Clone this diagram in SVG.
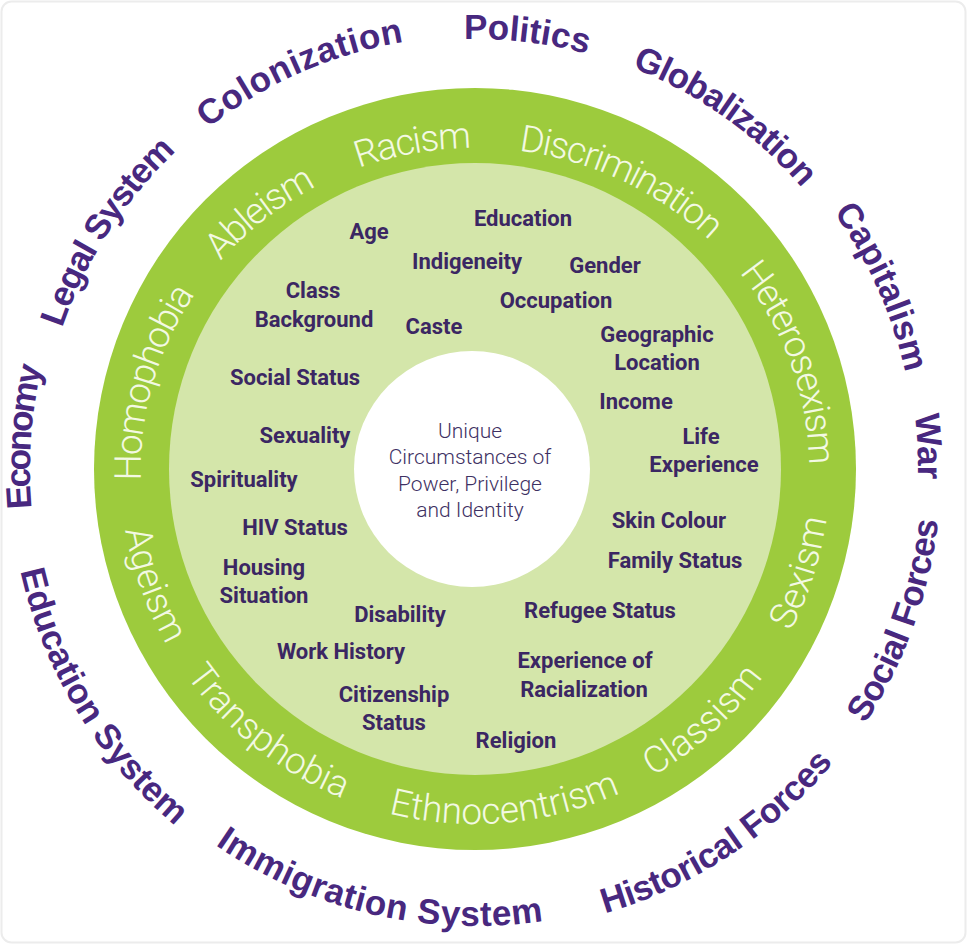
<svg xmlns="http://www.w3.org/2000/svg" xmlns:xlink="http://www.w3.org/1999/xlink" width="969" height="947" viewBox="0 0 969 947">
<style>
.outer{font-family:"Liberation Sans",Arial,sans-serif;font-weight:700;font-size:35px;fill:#48287f}
.ring{font-family:Roboto,"Liberation Sans",sans-serif;font-weight:300;font-size:37px;fill:#f3f9e3}
.cw{letter-spacing:-1.5px}
.lbl{font-family:Roboto,"Liberation Sans",sans-serif;font-weight:700;font-size:22px;fill:#3b2763;text-anchor:middle}
.ctr{font-family:Roboto,"Liberation Sans",sans-serif;font-weight:300;font-size:21px;fill:#3e3163;text-anchor:middle}
</style>
<defs>
<path id="ringCW" d="M475,790 A334,321 0 1 1 475,148 A334,321 0 1 1 475,790"/>
<path id="ringCCW" d="M475,114 A355,355 0 1 0 475,824 A355,355 0 1 0 475,114"/>
<path id="pEco" d="M475,914 A445,445 0 1 1 475,24 A445,445 0 1 1 475,914"/>
<path id="pLeg" d="M475,905 A436,436 0 1 1 475,33 A436,436 0 1 1 475,905"/>
<path id="pCol" d="M475,902 A433,433 0 1 1 475,36 A433,433 0 1 1 475,902"/>
<path id="pPol" d="M475,899 A430,430 0 1 1 475,39 A430,430 0 1 1 475,899"/>
<path id="pGlo" d="M475,900 A431,431 0 1 1 475,38 A431,431 0 1 1 475,900"/>
<path id="pCap" d="M475,910 A441,441 0 1 1 475,28 A441,441 0 1 1 475,910"/>
<path id="pWar" d="M475,912 A443,443 0 1 1 475,26 A443,443 0 1 1 475,912"/>
<path id="pSoc" d="M475,3 A466,466 0 1 0 475,935 A466,466 0 1 0 475,3"/>
<path id="pHis" d="M475,6 A463,463 0 1 0 475,932 A463,463 0 1 0 475,6"/>
<path id="pImm" d="M475,12 A457,457 0 1 0 475,926 A457,457 0 1 0 475,12"/>
<path id="pEdu" d="M475,3 A466,466 0 1 0 475,935 A466,466 0 1 0 475,3"/>
</defs>
<rect width="969" height="947" fill="#ffffff"/>
<rect x="1.5" y="1.5" width="964" height="941" rx="10" fill="none" stroke="#ececec" stroke-width="2"/>

<g id="rings">
<circle cx="475" cy="469" r="381" fill="#9dcb3d"/>
<circle cx="475" cy="469" r="306" fill="#d4e6aa"/>
<circle cx="472" cy="469" r="118" fill="#ffffff"/>
</g>

<g id="outer-forces">
<text class="outer" text-anchor="middle" letter-spacing="-2.5"><textPath xlink:href="#pEco" href="#pEco" startOffset="26.1%">Economy</textPath></text>
<text class="outer" text-anchor="middle" letter-spacing="-1.2"><textPath xlink:href="#pLeg" href="#pLeg" startOffset="34.1%">Legal System</textPath></text>
<text class="outer" text-anchor="middle" letter-spacing="0.6"><textPath xlink:href="#pCol" href="#pCol" startOffset="43.4%">Colonization</textPath></text>
<text class="outer" text-anchor="middle"><textPath xlink:href="#pPol" href="#pPol" startOffset="51.9%">Politics</textPath></text>
<text class="outer" text-anchor="middle" letter-spacing="-0.8"><textPath xlink:href="#pGlo" href="#pGlo" startOffset="59.8%">Globalization</textPath></text>
<text class="outer" text-anchor="middle"><textPath xlink:href="#pCap" href="#pCap" startOffset="68.3%">Capitalism</textPath></text>
<text class="outer" text-anchor="middle"><textPath xlink:href="#pWar" href="#pWar" startOffset="74.2%">War</textPath></text>
<text class="outer" text-anchor="middle" letter-spacing="-0.8"><textPath xlink:href="#pSoc" href="#pSoc" startOffset="69.5%">Social Forces</textPath></text>
<text class="outer" text-anchor="middle" letter-spacing="-0.4"><textPath xlink:href="#pHis" href="#pHis" startOffset="59.3%">Historical Forces</textPath></text>
<text class="outer" text-anchor="middle" letter-spacing="0.6"><textPath xlink:href="#pImm" href="#pImm" startOffset="46.4%">Immigration System</textPath></text>
<text class="outer" text-anchor="middle"><textPath xlink:href="#pEdu" href="#pEdu" startOffset="33.7%">Education System</textPath></text>
</g>

<g id="ring-isms">
<text class="ring cw" text-anchor="middle"><textPath xlink:href="#ringCW" href="#ringCW" startOffset="29.2%">Homophobia</textPath></text>
<text class="ring cw" text-anchor="middle"><textPath xlink:href="#ringCW" href="#ringCW" startOffset="39%">Ableism</textPath></text>
<text class="ring cw" text-anchor="middle"><textPath xlink:href="#ringCW" href="#ringCW" startOffset="47%">Racism</textPath></text>
<text class="ring cw" text-anchor="middle"><textPath xlink:href="#ringCW" href="#ringCW" startOffset="57.3%">Discrimination</textPath></text>
<text class="ring cw" text-anchor="middle"><textPath xlink:href="#ringCW" href="#ringCW" startOffset="69.7%">Heterosexism</textPath></text>
<text class="ring" text-anchor="middle"><textPath xlink:href="#ringCCW" href="#ringCCW" startOffset="30.5%">Ageism</textPath></text>
<text class="ring" text-anchor="middle"><textPath xlink:href="#ringCCW" href="#ringCCW" startOffset="39.4%">Transphobia</textPath></text>
<text class="ring" text-anchor="middle"><textPath xlink:href="#ringCCW" href="#ringCCW" startOffset="51.4%">Ethnocentrism</textPath></text>
<text class="ring" text-anchor="middle"><textPath xlink:href="#ringCCW" href="#ringCCW" startOffset="61.7%">Classism</textPath></text>
<text class="ring" text-anchor="middle"><textPath xlink:href="#ringCCW" href="#ringCCW" startOffset="70.1%">Sexism</textPath></text>
</g>

<g id="factors">
<text class="lbl" x="369" y="239">Age</text>
<text class="lbl" x="523" y="226">Education</text>
<text class="lbl" x="467" y="269">Indigeneity</text>
<text class="lbl" x="605" y="273">Gender</text>
<text class="lbl" x="313" y="298">Class</text>
<text class="lbl" x="314" y="327">Background</text>
<text class="lbl" x="434" y="334">Caste</text>
<text class="lbl" x="556" y="308">Occupation</text>
<text class="lbl" x="657" y="342">Geographic</text>
<text class="lbl" x="657" y="370">Location</text>
<text class="lbl" x="295" y="385">Social Status</text>
<text class="lbl" x="636" y="409">Income</text>
<text class="lbl" x="701" y="444">Life</text>
<text class="lbl" x="704" y="472">Experience</text>
<text class="lbl" x="305" y="443">Sexuality</text>
<text class="lbl" x="244" y="487">Spirituality</text>
<text class="lbl" x="295" y="535">HIV Status</text>
<text class="lbl" x="264" y="575">Housing</text>
<text class="lbl" x="264" y="603">Situation</text>
<text class="lbl" x="400" y="622">Disability</text>
<text class="lbl" x="341" y="659">Work History</text>
<text class="lbl" x="394" y="702">Citizenship</text>
<text class="lbl" x="394" y="730">Status</text>
<text class="lbl" x="516" y="748">Religion</text>
<text class="lbl" x="669" y="528">Skin Colour</text>
<text class="lbl" x="675" y="568">Family Status</text>
<text class="lbl" x="600" y="618">Refugee Status</text>
<text class="lbl" x="585" y="668">Experience of</text>
<text class="lbl" x="584" y="697">Racialization</text>
</g>

<g id="center">
<text class="ctr" x="470" y="438">Unique</text>
<text class="ctr" x="470" y="464">Circumstances of</text>
<text class="ctr" x="470" y="491">Power, Privilege</text>
<text class="ctr" x="470" y="517">and Identity</text>
</g>
</svg>
